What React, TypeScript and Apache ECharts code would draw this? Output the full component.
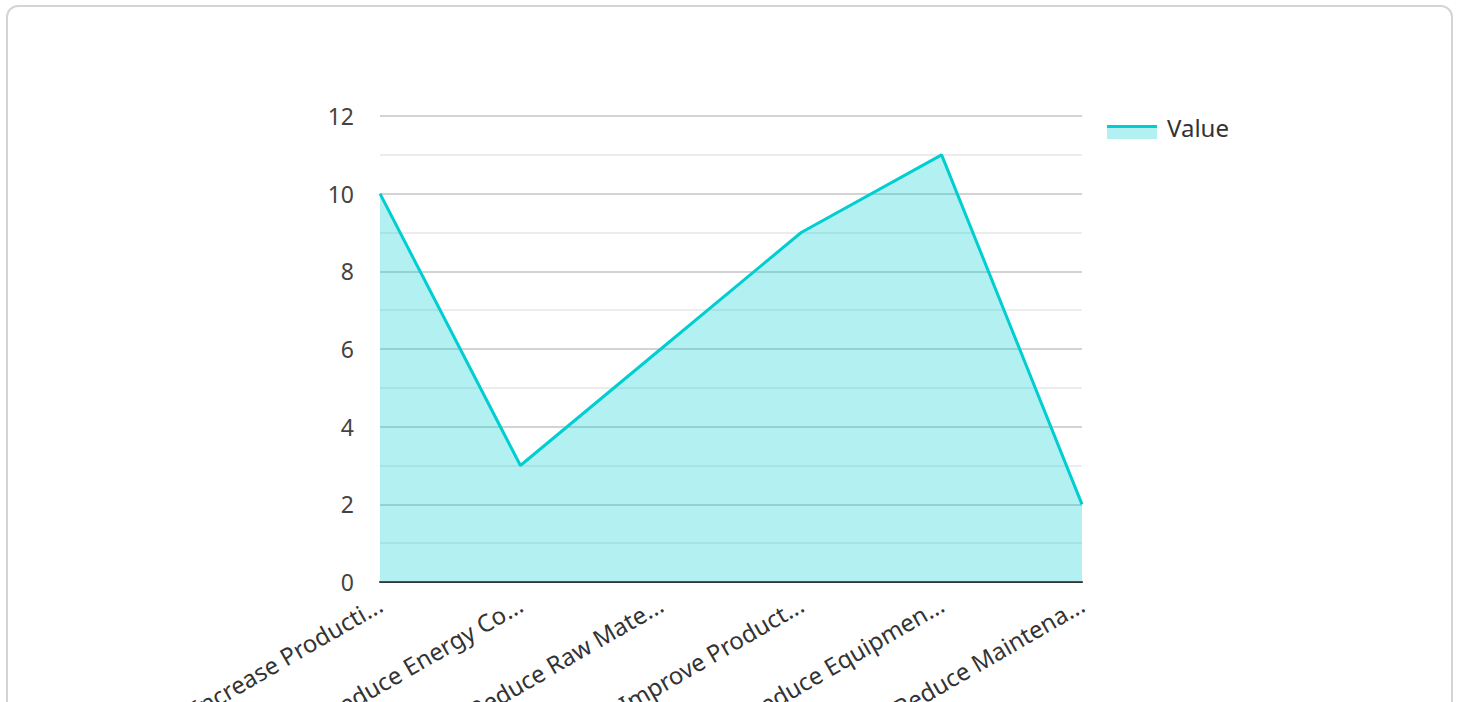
import React, { useEffect, useRef } from "react";
import * as echarts from "echarts";

const categories = [
  "Increase Production Efficiency",
  "Reduce Energy Consumption",
  "Reduce Raw Material Waste",
  "Improve Product Quality",
  "Reduce Equipment Downtime",
  "Reduce Maintenance Costs",
];
const tickLabels = [
  "Increase Producti...",
  "Reduce Energy Co...",
  "Reduce Raw Mate...",
  "Improve Product...",
  "Reduce Equipmen...",
  "Reduce Maintena...",
];
const values = [10, 3, 6, 9, 11, 2];
const seriesName = "Value";
const yMax = 12;
const yInterval = 2;

export default function App() {
  const ref = useRef<HTMLDivElement>(null);
  useEffect(() => {
    if (!ref.current) return;
    const chart = echarts.init(ref.current, undefined, { renderer: "svg" });
    const font = "'Noto Sans', 'Open Sans', sans-serif";
    chart.setOption({
      animation: false,
      textStyle: { fontFamily: font },
      grid: { left: 380, top: 116, width: 702, height: 466, containLabel: false, outerBoundsMode: "none" },
      legend: {
        left: 1107,
        top: 110,
        icon: "rect",
        itemWidth: 50,
        itemHeight: 14,
        itemGap: 10,
        data: [{ name: seriesName, itemStyle: { color: "rgba(0,0,0,0)" } }],
        textStyle: { fontSize: 24, lineHeight: 24, color: "#333", fontFamily: font },
      },
      graphic: [
        { type: "rect", shape: { x: 1107, y: 125, width: 50, height: 14 }, style: { fill: "rgba(0,206,209,0.3)" } },
        { type: "rect", shape: { x: 1107, y: 125, width: 50, height: 3 }, style: { fill: "#00CED1" } },
      ],
      xAxis: {
        type: "category",
        data: categories,
        boundaryGap: false,
        axisLine: { lineStyle: { color: "#333", width: 2 } },
        axisTick: { show: false },
        axisLabel: {
          rotate: 30,
          interval: 0,
          fontSize: 24,
          color: "#333",
          margin: 20,
          formatter: (_v: string, i: number) => tickLabels[i],
          fontFamily: font,
        },
        splitLine: { show: false },
      },
      yAxis: {
        type: "value",
        min: 0,
        max: yMax,
        interval: yInterval,
        axisLine: { show: false },
        axisTick: { show: false },
        axisLabel: { fontSize: 23, color: "#444", margin: 26, fontFamily: font },
        splitLine: { lineStyle: { color: "#c4c4c4", width: 1.5 } },
        minorTick: { show: false, splitNumber: 2 },
        minorSplitLine: { show: true, lineStyle: { color: "#e6e6e6", width: 1.5 } },
      },
      series: [
        {
          name: seriesName,
          type: "line",
          data: values,
          symbol: "none",
          lineStyle: { color: "#00CED1", width: 3 },
          itemStyle: { color: "#00CED1" },
          areaStyle: { color: "#00CED1", opacity: 0.3 },
        },
      ],
    });
    return () => chart.dispose();
  }, []);
  return (
    <div style={{ position: "absolute", left: 0, top: 0, width: 1458, height: 702, overflow: "hidden", background: "#fff" }}>
      <div
        style={{
          position: "absolute",
          left: 6,
          top: 5,
          width: 1447,
          height: 740,
          border: "2px solid #d4d4d4",
          borderRadius: 12,
          boxSizing: "border-box",
        }}
      />
      <div ref={ref} style={{ position: "absolute", left: 0, top: 0, width: 1458, height: 702 }} />
    </div>
  );
}
